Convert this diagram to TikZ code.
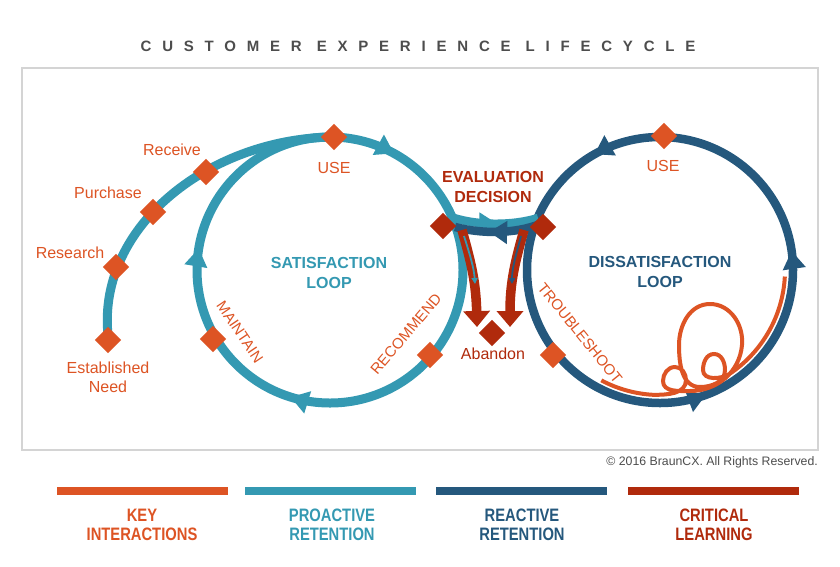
\documentclass[tikz,border=0pt]{standalone}
\usepackage{fontspec}
\setmainfont{Liberation Sans}
\newfontfamily\titlefont[LetterSpace=72]{Liberation Sans}
\usetikzlibrary{arrows.meta,decorations.markings,calc}
\definecolor{orangec}{RGB}{221,84,36}
\definecolor{tealc}{RGB}{52,153,178}
\definecolor{bluec}{RGB}{37,88,125}
\definecolor{redc}{RGB}{176,42,12}
\definecolor{grayt}{RGB}{77,77,77}
\definecolor{framec}{RGB}{212,212,212}
\tikzset{
  dia/.style={fill=#1, rotate=45, minimum size=18.5pt, inner sep=0pt},
  lab/.style={font=\fontsize{16}{19}\selectfont, text=#1, align=center, inner sep=0pt},
  blab/.style={font=\bfseries\fontsize{16}{19.5}\selectfont, text=#1, align=center, inner sep=0pt},
  leg/.style={font=\bfseries\fontsize{18}{19}\selectfont, text=#1, align=center, inner sep=0pt, xscale=0.82},
  rlab/.style={font=\fontsize{15}{18}\selectfont, text=orangec, inner sep=0pt},
  bar/.style={fill=#1, minimum width=171pt, minimum height=8pt, inner sep=0pt},
  threearrows/.style n args={3}{postaction={decorate}, decoration={markings,
     mark=at position #1 with {\arrow{Triangle[width=22pt,length=18pt]}},
     mark=at position #2 with {\arrow{Triangle[width=22pt,length=18pt]}},
     mark=at position #3 with {\arrow{Triangle[width=22pt,length=18pt]}}}},
  onearrow/.style={postaction={decorate}, decoration={markings,
     mark=at position #1 with {\arrow{Triangle[width=22pt,length=18pt]}}}}
}
\begin{document}
\begin{tikzpicture}[x=1pt,y=1pt]
\useasboundingbox (0,0) rectangle (840,-566);
\fill[white] (0,0) rectangle (840,-566);
% frame
\draw[framec, line width=2.5pt] (22,-68) rectangle (818,-450);
% title
\node[font=\titlefont\bfseries\fontsize{15}{18}\selectfont, text=grayt, inner sep=0pt] (title) at (418,-46) {CUSTOMER EXPERIENCE LIFECYCLE};

\coordinate (sc) at (330,-270);
\coordinate (dc) at (660,-270);

% satisfaction loop (clockwise)
\draw[tealc, line width=9pt, threearrows={0.08}{0.548}{0.776}] (330,-137) arc[start angle=90, end angle=-270, radius=133];
% lead-in
\draw[tealc, line width=9pt] (108,-335) .. controls (97,-225) and (212,-137) .. (336,-137);

% dissatisfaction loop (counterclockwise)
\draw[bluec, line width=8.5pt, threearrows={0.082}{0.556}{0.773}] (660,-137) arc[start angle=90, end angle=450, radius=133];

% bridges
\draw[tealc, line width=8.5pt, onearrow=0.55] (448,-216) .. controls (475,-226) and (512,-226) .. (538,-218);
\draw[bluec, line width=8.5pt, onearrow=0.6] (540,-224) .. controls (515,-234) and (482,-234) .. (455,-227);

% critical arrows
\draw[redc, line width=9.5pt, -{Triangle[width=26pt,length=16pt]}] (462,-230) .. controls (471,-262) and (476,-282) .. (477,-327);
\draw[redc, line width=9.5pt, -{Triangle[width=26pt,length=16pt]}] (524,-230) .. controls (515,-262) and (510,-282) .. (510,-327);
\draw[tealc, line width=1.8pt, -{Triangle[width=6pt,length=6pt]}] (464,-236) .. controls (470,-255) and (474,-268) .. (475,-284);
\draw[bluec, line width=1.8pt, -{Triangle[width=6pt,length=6pt]}] (521,-236) .. controls (516,-255) and (512,-268) .. (512,-284);

% swirl
\draw[orangec, line width=4pt] ($(dc)+(-118:125)$) arc[start angle=-118, end angle=-93, radius=125]
  to[out=0,in=-90] (686,-380) to[out=90,in=0] (675,-367) to[out=180,in=90] (663,-381)
  to[out=-90,in=180] (690,-391)
  to[out=0,in=-95] (742,-345) to[out=85,in=0] (710,-304) to[out=180,in=90] (679,-345)
  to[out=-90,in=180] (700,-387)
  to[out=0,in=-90] (725,-370) to[out=90,in=0] (714,-354) to[out=180,in=90] (703,-370)
  to[out=-90,in=214] ($(dc)+(-56:125)$)
  arc[start angle=-56, end angle=-3, radius=125];

% key interaction diamonds
\node[dia=orangec] (dneed) at (108,-340) {};
\node[dia=orangec] (dres) at (116,-267) {};
\node[dia=orangec] (dpur) at (153,-212) {};
\node[dia=orangec] (drec) at (206,-172) {};
\node[dia=orangec] (duse1) at (334,-137) {};
\node[dia=orangec] (dmaint) at (213,-339) {};
\node[dia=orangec] (drecom) at (430,-355) {};
\node[dia=orangec] (duse2) at (664,-136) {};
\node[dia=orangec] (dtrou) at (553,-355) {};
% critical diamonds
\node[dia=redc] (devl) at (443,-226) {};
\node[dia=redc] (devr) at (543,-227) {};
\node[dia=redc] (daband) at (492,-333) {};

% labels
\node[lab=orangec] (tneed) at (108,-377) {Established\\Need};
\node[lab=orangec] (tres) at (70,-253) {Research};
\node[lab=orangec] (tpur) at (108,-193) {Purchase};
\node[lab=orangec] (trec) at (172,-150) {Receive};
\node[lab=orangec] (tuse1) at (334,-168) {USE};
\node[lab=orangec] (tuse2) at (663,-166) {USE};
\node[lab=redc] (taband) at (493,-354) {Abandon};
\node[blab=tealc] (tsat) at (329,-273) {SATISFACTION\\LOOP};
\node[blab=bluec] (tdis) at (660,-272) {DISSATISFACTION\\LOOP};
\node[blab=redc] (teval) at (493,-187) {EVALUATION\\DECISION};
\node[rlab, rotate=-56] (tmaint) at (240,-332) {MAINTAIN};
\node[rlab, rotate=49.5] (trecom) at (406,-334) {RECOMMEND};
\node[rlab, rotate=-51] (ttrou) at (580,-333) {TROUBLESHOOT};

\node[anchor=east, font=\fontsize{12.3}{14}\selectfont, text=grayt, inner sep=0pt] (copy) at (818,-462) {© 2016 BraunCX. All Rights Reserved.};

% legend
\node[bar=orangec] (b1) at (142.5,-491) {};
\node[bar=tealc] (b2) at (330.5,-491) {};
\node[bar=bluec] (b3) at (521.5,-491) {};
\node[bar=redc] (b4) at (713,-491) {};
\node[leg=orangec] (l1) at (142,-524.5) {KEY\\INTERACTIONS};
\node[leg=tealc] (l2) at (332,-524.5) {PROACTIVE\\RETENTION};
\node[leg=bluec] (l3) at (522,-524.5) {REACTIVE\\RETENTION};
\node[leg=redc] (l4) at (714,-524.5) {CRITICAL\\LEARNING};
\end{tikzpicture}
\end{document}
